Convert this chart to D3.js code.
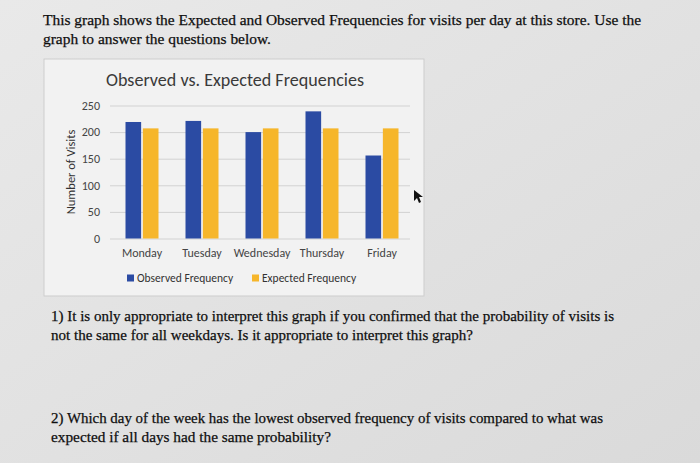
<!DOCTYPE html>
<html>
<head>
<meta charset="utf-8">
<script src="https://cdn.jsdelivr.net/npm/d3@7"></script>
<style>
  body { margin: 0; background: #e3e3e3; }
  svg { display: block; }
</style>
</head>
<body>
<svg id="chart" width="700" height="463"></svg>
<script>
// chart data
const days = ["Monday", "Tuesday", "Wednesday", "Thursday", "Friday"];
const observed = [219, 221, 200, 239, 156];
const expected = [207, 207, 207, 207, 207];
const seriesNames = ["Observed Frequency", "Expected Frequency"];
const yTicks = [0, 50, 100, 150, 200, 250];

const headerLines = [
  "This graph shows the Expected and Observed Frequencies for visits per day at this store. Use the",
  "graph to answer the questions below."
];
const q1Lines = [
  "1) It is only appropriate to interpret this graph if you confirmed that the probability of visits is",
  "not the same for all weekdays. Is it appropriate to interpret this graph?"
];
const q2Lines = [
  "2) Which day of the week has the lowest observed frequency of visits compared to what was",
  "expected if all days had the same probability?"
];

const svg = d3.select("#chart");
const colors = ["#2b4ba3", "#f6b62b"];
const chartFont = "Carlito, Calibri, 'Open Sans', sans-serif";
const serif = "'Liberation Serif', 'Times New Roman', serif";

// photo-ish page background
const defs = svg.append("defs");
const grad = defs.append("linearGradient").attr("id", "bg")
  .attr("x1", 0).attr("y1", 0).attr("x2", 1).attr("y2", 1);
grad.append("stop").attr("offset", "0%").attr("stop-color", "#e9e9e9");
grad.append("stop").attr("offset", "100%").attr("stop-color", "#dadada");
svg.append("rect").attr("width", 700).attr("height", 463).attr("fill", "url(#bg)");

// text lines: [lines, x, first baseline, line gap, widths]
function textBlock(lines, x, y0, gap, widths) {
  svg.append("g").selectAll("text")
    .data(lines)
    .enter()
    .append("text")
    .attr("x", x)
    .attr("y", (d, i) => y0 + i * gap)
    .attr("textLength", (d, i) => widths[i])
    .attr("lengthAdjust", "spacingAndGlyphs")
    .style("font-family", serif)
    .style("font-size", "15.5px")
    .style("fill", "#0e0e0e")
    .style("stroke", "#0e0e0e")
    .style("stroke-width", 0.25)
    .text(d => d);
}
textBlock(headerLines, 43, 25, 18.5, [598, 228]);
textBlock(q1Lines, 51, 321, 19, [563, 422]);
textBlock(q2Lines, 51, 423, 19, [552, 280]);

// chart box
svg.append("rect")
  .attr("x", 44).attr("y", 59)
  .attr("width", 380).attr("height", 237)
  .attr("fill", "#f2f2f2")
  .attr("stroke", "#cdcdcd")
  .attr("stroke-width", 1);

svg.append("text")
  .attr("x", 235).attr("y", 86)
  .attr("text-anchor", "middle")
  .attr("textLength", 258)
  .attr("lengthAdjust", "spacingAndGlyphs")
  .style("font-family", chartFont)
  .style("font-size", "18px")
  .style("fill", "#3a3a3a")
  .text("Observed vs. Expected Frequencies");

// scales
let xScale = d3.scaleBand().domain(days).range([112, 412])
  .paddingInner(0.45).paddingOuter(0.225);
let xSub = d3.scaleBand().domain([0, 1]).range([0, xScale.bandwidth()])
  .paddingInner(0.1);
let yScale = d3.scaleLinear().domain([0, 250]).range([238.5, 105.5]);

// gridlines + y labels
const yAxis = svg.append("g")
  .attr("transform", "translate(110,0)")
  .call(d3.axisLeft(yScale).tickValues(yTicks).tickSize(-300).tickPadding(10));
yAxis.select(".domain").remove();
yAxis.selectAll(".tick line").attr("stroke", "#d2d2d2");
yAxis.selectAll(".tick text")
  .style("font-family", chartFont)
  .style("font-size", "12px")
  .style("fill", "#444");

svg.append("text")
  .attr("transform", "translate(75,172) rotate(-90)")
  .attr("text-anchor", "middle")
  .style("font-family", chartFont)
  .style("font-size", "12.5px")
  .style("fill", "#333")
  .text("Number of Visits");

// bars
let rows = days.map((d, i) => ({ day: d, vals: [observed[i], expected[i]] }));
svg.append("g")
  .selectAll("g")
  .data(rows)
  .enter()
  .append("g")
  .attr("transform", d => "translate(" + xScale(d.day) + ",0)")
  .selectAll("rect")
  .data(d => d.vals)
  .enter()
  .append("rect")
  .attr("x", (d, i) => xSub(i))
  .attr("width", xSub.bandwidth())
  .attr("y", d => yScale(d))
  .attr("height", d => yScale(0) - yScale(d))
  .style("fill", (d, i) => colors[i]);

// category axis
const xAxis = svg.append("g")
  .attr("transform", "translate(0,238.5)")
  .call(d3.axisBottom(xScale).tickSize(0).tickPadding(10));
xAxis.select(".domain").remove();
xAxis.selectAll(".tick text")
  .style("font-family", chartFont)
  .style("font-size", "12px")
  .style("fill", "#444");

// legend
const legendX = [127, 252];
const legend = svg.append("g")
  .selectAll("g")
  .data(seriesNames)
  .enter()
  .append("g")
  .attr("transform", (d, i) => "translate(" + legendX[i] + ",278)");
legend.append("rect")
  .attr("x", 0).attr("y", -3.5)
  .attr("width", 7).attr("height", 7)
  .style("fill", (d, i) => colors[i]);
legend.append("text")
  .attr("x", 10).attr("y", 4)
  .style("font-family", chartFont)
  .style("font-size", "11.5px")
  .style("fill", "#333")
  .text(d => d);

// mouse pointer in the photo
svg.append("path")
  .attr("d", "M414,190 L414,201 L417,198 L419,203 L421,202 L419,197 L423,197 Z")
  .attr("fill", "#111");
</script>
</body>
</html>
